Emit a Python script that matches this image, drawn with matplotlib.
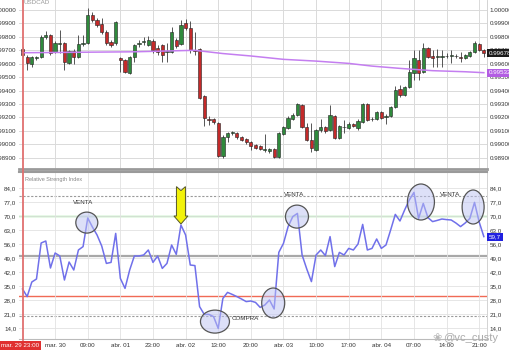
import numpy as np
import matplotlib
matplotlib.use('Agg')
import matplotlib.pyplot as plt
from matplotlib.patches import Ellipse, Polygon
from matplotlib.transforms import blended_transform_factory

plt.rcParams['font.family'] = ['Liberation Sans', 'DejaVu Sans']

# velas horarias USDCAD
apertura = [0.99707, 0.99648, 0.99596, 0.99641, 0.99648, 0.99796, 0.99811, 0.99685, 0.99744, 0.99752,
            0.99604, 0.99693, 0.99648, 0.99744, 0.99752, 0.99959, 0.99922, 0.99893, 0.99833, 0.99759,
            0.99752, 0.99641, 0.99626, 0.99530, 0.99648, 0.99744, 0.99759, 0.99737, 0.99767, 0.99715,
            0.99737, 0.99685, 0.99685, 0.99774, 0.99744, 0.99900, 0.99863, 0.99700, 0.99707, 0.99359,
            0.99189, 0.99189, 0.99159, 0.98915, 0.99055, 0.99085, 0.99085, 0.99055, 0.99041, 0.99018,
            0.98996, 0.98989, 0.98959, 0.98952, 0.98967, 0.98907, 0.99078, 0.99122, 0.99189, 0.99218,
            0.99292, 0.99129, 0.99033, 0.98959, 0.99107, 0.99129, 0.99107, 0.99211, 0.99048, 0.99129,
            0.99122, 0.99152, 0.99122, 0.99166, 0.99300, 0.99189, 0.99189, 0.99241, 0.99204, 0.99211,
            0.99278, 0.99411, 0.99367, 0.99426, 0.99530, 0.99626, 0.99537, 0.99715, 0.99656, 0.99648,
            0.99648, 0.99656, 0.99656, 0.99656, 0.99648, 0.99641, 0.99656, 0.99685, 0.99744, 0.99700]
maximo = [0.99722, 0.99663, 0.99656, 0.99656, 0.99811, 0.99841, 0.99819, 0.99767, 0.99848, 0.99759,
          0.99700, 0.99707, 0.99811, 0.99811, 1.00011, 0.99982, 0.99937, 0.99937, 0.99848, 0.99774,
          0.99915, 0.99648, 0.99633, 0.99656, 0.99744, 0.99774, 0.99796, 0.99804, 0.99782, 0.99737,
          0.99744, 0.99752, 0.99870, 0.99789, 0.99922, 0.99930, 0.99915, 0.99833, 0.99715, 0.99367,
          0.99211, 0.99196, 0.99166, 0.99070, 0.99092, 0.99100, 0.99092, 0.99063, 0.99048, 0.99026,
          0.99004, 0.98996, 0.99078, 0.98974, 0.98974, 0.99092, 0.99137, 0.99211, 0.99233, 0.99307,
          0.99300, 0.99159, 0.99159, 0.99115, 0.99189, 0.99137, 0.99292, 0.99218, 0.99144, 0.99181,
          0.99166, 0.99159, 0.99189, 0.99307, 0.99307, 0.99204, 0.99248, 0.99248, 0.99226, 0.99285,
          0.99433, 0.99441, 0.99433, 0.99626, 0.99700, 0.99700, 0.99752, 0.99722, 0.99700, 0.99707,
          0.99700, 0.99678, 0.99700, 0.99670, 0.99685, 0.99670, 0.99693, 0.99767, 0.99752, 0.99707]
minimo = [0.99648, 0.99552, 0.99574, 0.99626, 0.99641, 0.99782, 0.99663, 0.99678, 0.99678, 0.99552,
          0.99596, 0.99596, 0.99641, 0.99730, 0.99744, 0.99907, 0.99870, 0.99819, 0.99737, 0.99722,
          0.99737, 0.99537, 0.99530, 0.99522, 0.99611, 0.99722, 0.99737, 0.99730, 0.99678, 0.99663,
          0.99611, 0.99611, 0.99678, 0.99715, 0.99737, 0.99848, 0.99678, 0.99663, 0.99337, 0.99137,
          0.99144, 0.99152, 0.98907, 0.98900, 0.99018, 0.99070, 0.99041, 0.99026, 0.99004, 0.98959,
          0.98967, 0.98959, 0.98944, 0.98937, 0.98900, 0.98900, 0.99070, 0.99115, 0.99181, 0.99211,
          0.99122, 0.99026, 0.98944, 0.98952, 0.99092, 0.99085, 0.99100, 0.99041, 0.99041, 0.99085,
          0.99115, 0.99129, 0.99107, 0.99159, 0.99174, 0.99174, 0.99181, 0.99189, 0.99152, 0.99204,
          0.99270, 0.99352, 0.99359, 0.99418, 0.99478, 0.99478, 0.99530, 0.99641, 0.99574, 0.99574,
          0.99574, 0.99641, 0.99604, 0.99641, 0.99611, 0.99633, 0.99648, 0.99678, 0.99693, 0.99648]
cierre = [0.99663, 0.99604, 0.99648, 0.99648, 0.99796, 0.99811, 0.99678, 0.99752, 0.99752, 0.99611,
          0.99693, 0.99648, 0.99744, 0.99752, 0.99959, 0.99922, 0.99885, 0.99833, 0.99752, 0.99737,
          0.99907, 0.99626, 0.99537, 0.99648, 0.99737, 0.99752, 0.99767, 0.99774, 0.99700, 0.99685,
          0.99663, 0.99693, 0.99833, 0.99730, 0.99885, 0.99863, 0.99700, 0.99693, 0.99344, 0.99196,
          0.99185, 0.99166, 0.98915, 0.99055, 0.99085, 0.99092, 0.99055, 0.99033, 0.99018, 0.98989,
          0.98974, 0.98967, 0.98967, 0.98967, 0.98907, 0.99085, 0.99129, 0.99196, 0.99218, 0.99300,
          0.99129, 0.99033, 0.98974, 0.99107, 0.99129, 0.99100, 0.99218, 0.99048, 0.99137, 0.99126,
          0.99152, 0.99137, 0.99174, 0.99300, 0.99181, 0.99186, 0.99241, 0.99196, 0.99211, 0.99278,
          0.99404, 0.99367, 0.99426, 0.99537, 0.99641, 0.99530, 0.99715, 0.99648, 0.99641, 0.99656,
          0.99656, 0.99653, 0.99663, 0.99659, 0.99641, 0.99663, 0.99685, 0.99752, 0.99700, 0.99678]

# media movil (indice de vela, valor)
media_idx = [0, 24, 37, 43, 49, 56, 63, 70, 75, 81, 88, 95, 99]
media_val = [0.99680, 0.99687, 0.99698, 0.99674, 0.99656, 0.99631, 0.99618, 0.99601,
             0.99581, 0.99564, 0.99547, 0.99539, 0.99532]

# RSI
rsi = [33.5, 29.7, 37.0, 38.5, 56.5, 57.5, 44.0, 51.5, 50.0, 38.0,
       47.0, 43.0, 53.0, 54.7, 69.0, 64.5, 60.5, 55.0, 46.3, 46.8,
       61.3, 38.8, 33.8, 43.0, 50.0, 50.0, 50.5, 53.0, 46.8, 50.0,
       43.8, 46.3, 55.5, 50.8, 65.5, 60.5, 45.5, 45.2, 24.7, 20.8,
       20.8, 19.7, 13.8, 28.8, 31.8, 30.8, 29.7, 28.5, 27.2, 27.5,
       26.8, 24.3, 25.5, 28.0, 23.5, 51.8, 56.3, 64.7, 69.7, 71.3,
       50.5, 43.5, 37.2, 50.5, 53.0, 50.2, 59.7, 44.7, 51.8, 50.5,
       53.8, 53.0, 56.0, 65.8, 53.0, 53.8, 58.5, 53.8, 55.5, 63.0,
       70.8, 67.5, 73.0, 78.0, 81.8, 68.8, 76.3, 69.2, 67.2, 67.8,
       68.5, 68.2, 68.0, 66.5, 64.7, 66.5, 68.8, 76.8, 67.0, 59.7]

etiquetas_x = ['mar. 30', '09:00', 'abr. 01', '23:00', 'abr. 02', '13:00', '20:00',
               'abr. 03', '10:00', '17:00', 'abr. 04', '07:00', '14:00', '21:00']
precio_ticks = [0.989, 0.990, 0.991, 0.992, 0.993, 0.994, 0.995, 0.996, 0.997, 0.998, 0.999, 1.000]
rsi_ticks = [14, 21, 28, 35, 42, 49, 56, 63, 70, 77, 84]

# marcas dibujadas a mano sobre el RSI (centro x, centro y, ancho px, alto px)
anillo_x = [13.8, 41.3, 53.8, 58.9, 85.5, 96.7]
anillo_y = [66.7, 17.2, 26.5, 69.7, 77.0, 74.5]
anillo_w = [22, 29, 23, 23, 27, 22]
anillo_h = [21, 23, 30, 23, 36, 34]

#################################################################################

W, H = 509, 352
izq, der = 19, 487
px_vela = 4.66
fig = plt.figure(figsize=(W / 100, H / 100), dpi=100)
fig.patch.set_facecolor('white')

ax1 = fig.add_axes([izq / W, 1 - 169 / H, (der - izq) / W, 169 / H])
ax2 = fig.add_axes([izq / W, 1 - 339 / H, (der - izq) / W, (339 - 172) / H])

n = len(cierre)
x = np.arange(n)
xlim = ((izq - 22.5) / px_vela, (der - 22.5) / px_vela)
pos_x = np.arange(7, n, 7)

o = np.array(apertura)
c = np.array(cierre)
colores = np.where(c >= o, '#2f8a3c', '#c42a2a')

# velas
ax1.vlines(x, minimo, maximo, color='#3a3a3a', lw=0.6, zorder=3)
ax1.bar(x, c - o, bottom=o, width=0.7, color=colores, edgecolor='#222222', linewidth=0.4, zorder=4)
ax1.plot(media_idx, media_val, color='#c47ef0', lw=1.1, zorder=5)

ax1.set_xlim(xlim)
ax1.set_ylim(0.98818, 1.00071)
ax1.set_yticks(precio_ticks)
ax1.set_yticklabels(['%.5f' % v for v in precio_ticks])
ax1.set_xticks(pos_x)
ax1.tick_params(axis='x', length=0, labelbottom=False)
ax1.tick_params(axis='y', length=0, labelleft=True, labelright=True, labelsize=4.5, pad=2, colors='#333333')
ax1.grid(True, color='#dadada', lw=0.7, zorder=0)
for s in ['top', 'left']:
    ax1.spines[s].set_visible(False)
ax1.spines['right'].set_color('#cccccc')
ax1.spines['right'].set_linewidth(0.6)
ax1.spines['bottom'].set_color('#9a9a9a')
ax1.spines['bottom'].set_linewidth(2)

tr1 = blended_transform_factory(ax1.transAxes, ax1.transData)
ax1.text(1.004, cierre[-1], '%.5f' % cierre[-1], transform=tr1, fontsize=4.5, color='white',
         va='center', ha='left', clip_on=False, zorder=10,
         bbox=dict(boxstyle='square,pad=0.25', fc='#1a1a1a', ec='none'))
ax1.text(1.004, media_val[-1], '%.5f' % media_val[-1], transform=tr1, fontsize=4.5, color='white',
         va='center', ha='left', clip_on=False, zorder=10,
         bbox=dict(boxstyle='square,pad=0.25', fc='#b35de3', ec='none'))

# RSI
ax2.axhline(80, color='#9a9a9a', lw=0.8, ls=(0, (2, 1.5)), zorder=1)
ax2.axhline(20, color='#9a9a9a', lw=0.8, ls=(0, (2, 1.5)), zorder=1)
ax2.axhline(50, color='#a8a8a8', lw=1.6, zorder=1)
ax2.axhline(70, color='#86e086', lw=1.0, zorder=1)
ax2.axhline(30, color='#f06a55', lw=1.0, zorder=1)
ax2.plot(x, rsi, color='#7070ea', lw=1.1, zorder=4)

ax2.set_xlim(xlim)
ax2.set_ylim(8.5, 92)
ax2.set_yticks(rsi_ticks)
ax2.set_yticklabels([('%.1f' % v).replace('.', ',') for v in rsi_ticks])
ax2.set_xticks(pos_x)
ax2.set_xticklabels(etiquetas_x)
ax2.tick_params(axis='x', length=0, labelsize=4.5, pad=3, colors='#333333')
ax2.tick_params(axis='y', length=0, labelleft=True, labelright=True, labelsize=4.5, pad=2, colors='#333333')
ax2.grid(True, color='#e2e2e2', lw=0.6, zorder=0)
ax2.spines['left'].set_visible(False)
ax2.spines['right'].set_color('#cccccc')
ax2.spines['right'].set_linewidth(0.6)
ax2.spines['top'].set_color('#9a9a9a')
ax2.spines['top'].set_linewidth(1.5)
ax2.spines['bottom'].set_color('#bbbbbb')
ax2.spines['bottom'].set_linewidth(0.8)

sx = (xlim[1] - xlim[0]) / (der - izq)   # unidades por pixel
sy = (92 - 8.5) / (339 - 172)
for cx, cy, w, h in zip(anillo_x, anillo_y, anillo_w, anillo_h):
    ax2.add_patch(Ellipse((cx, cy), w * sx, h * sy, fc=(0.74, 0.76, 0.95, 0.5),
                          ec='#555555', lw=0.9, zorder=5))

ax2.text(13.1, 76.8, 'VENTA', fontsize=4.5, color='#333333', ha='center', va='center')
ax2.text(58.3, 80.5, 'VENTA', fontsize=4.5, color='#333333', ha='center', va='center')
ax2.text(91.7, 81.0, 'VENTA', fontsize=4.5, color='#333333', ha='center', va='center')
ax2.text(44.9, 18.5, 'COMPRA', fontsize=4.5, color='#333333', ha='left', va='center')

# flecha amarilla
fx, ftop, fpunta = 34, 84.7, 66.0
fcab = fpunta + 8 * sy
flecha = [(fx - 4.5 * sx, ftop), (fx, ftop - 4 * sy), (fx + 4.5 * sx, ftop),
          (fx + 4.5 * sx, fcab), (fx + 7 * sx, fcab), (fx, fpunta),
          (fx - 7 * sx, fcab), (fx - 4.5 * sx, fcab)]
ax2.add_patch(Polygon(flecha, closed=True, fc='#f2f20a', ec='#55552a', lw=0.7, zorder=6, clip_on=False))

tr2 = blended_transform_factory(ax2.transAxes, ax2.transData)
ax2.text(1.004, rsi[-1], ('%.1f' % rsi[-1]).replace('.', ','), transform=tr2, fontsize=4.5,
         color='white', va='center', ha='left', clip_on=False, zorder=10,
         bbox=dict(boxstyle='square,pad=0.25', fc='#2020e0', ec='none'))

# cursor rojo y textos
fig.add_artist(plt.Line2D([22.5 / W, 22.5 / W], [1 - 340 / H, 1], color='#e07070', lw=1.3))
fig.text(24 / W, 1 - 2 / H, 'USDCAD', fontsize=4.5, color='#999999', va='center')
fig.text(25 / W, 1 - 180 / H, 'Relative Strength Index', fontsize=4, color='#888888', va='center')
fig.text(1 / W, 1 - 345.5 / H, 'mar. 29 23:00', fontsize=4.5, color='white', va='center', ha='left',
         bbox=dict(boxstyle='square,pad=0.25', fc='#e03030', ec='none'))
fig.text(432 / W, 1 - 338 / H, '\u2740', fontsize=8, color='#b8b8b8', va='center')
fig.text(443 / W, 1 - 338 / H, '@vc_custy', fontsize=8, color='#ababab', va='center')

fig.savefig('out.png', dpi=100)
